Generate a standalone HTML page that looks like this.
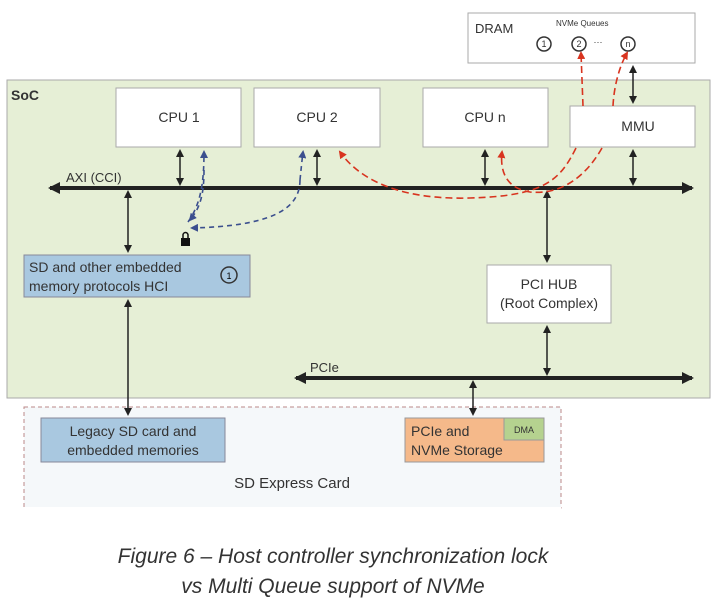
<!DOCTYPE html>
<html><head><style>
html,body{margin:0;padding:0;background:#fff;}
svg{display:block;font-family:"Liberation Sans",sans-serif;}
</style></head><body>
<svg width="720" height="612" viewBox="0 0 720 612" xmlns="http://www.w3.org/2000/svg">
<defs>
<marker id="ak" markerWidth="8" markerHeight="8" refX="6" refY="4" orient="auto-start-reverse" markerUnits="userSpaceOnUse"><path d="M0,0 L8,4 L0,8 z" fill="#222"/></marker>
<marker id="ab" markerWidth="12" markerHeight="12" refX="10" refY="6" orient="auto-start-reverse" markerUnits="userSpaceOnUse"><path d="M0,0 L12,6 L0,12 z" fill="#222"/></marker>
<marker id="ar" markerWidth="8" markerHeight="8" refX="6" refY="4" orient="auto" markerUnits="userSpaceOnUse"><path d="M0,0 L8,4 L0,8 z" fill="#d8341f"/></marker>
<marker id="abl" markerWidth="8" markerHeight="8" refX="6" refY="4" orient="auto" markerUnits="userSpaceOnUse"><path d="M0,0 L8,4 L0,8 z" fill="#3b4f8e"/></marker>
</defs>
<!-- DRAM -->
<rect x="468" y="13" width="227" height="50" fill="#fff" stroke="#aaa"/>
<text x="475" y="33" font-size="13" fill="#333">DRAM</text>
<text x="556" y="26" font-size="8" fill="#333">NVMe Queues</text>
<g fill="none" stroke="#333" stroke-width="1.5">
<circle cx="544" cy="44" r="7"/><circle cx="579" cy="44" r="7"/><circle cx="628" cy="44" r="7"/></g>
<g font-size="9" text-anchor="middle" fill="#333">
<text x="544" y="47">1</text><text x="579" y="47">2</text><text x="598" y="45">···</text><text x="628" y="47">n</text></g>
<!-- SoC -->
<rect x="7" y="80" width="703" height="318" fill="#e6efd6" stroke="#aaa"/>
<text x="11" y="100" font-size="14" font-weight="bold" fill="#333">SoC</text>
<g fill="#fff" stroke="#aaa">
<rect x="116" y="88" width="125" height="59"/>
<rect x="254" y="88" width="126" height="59"/>
<rect x="423" y="88" width="125" height="59"/>
<rect x="570" y="106" width="125" height="41"/>
<rect x="487" y="265" width="124" height="58"/>
</g>
<g font-size="14" fill="#333" text-anchor="middle">
<text x="179" y="122">CPU 1</text><text x="317" y="122">CPU 2</text><text x="485" y="122">CPU n</text><text x="638" y="131">MMU</text>
<text x="549" y="289">PCI HUB</text><text x="549" y="308">(Root Complex)</text>
</g>
<!-- HCI -->
<rect x="24" y="255" width="226" height="42" fill="#a9c8e0" stroke="#889"/>
<text x="29" y="272" font-size="14" fill="#333">SD and other embedded</text>
<text x="29" y="291" font-size="14" fill="#333">memory protocols HCI</text>
<circle cx="229" cy="275" r="8" fill="none" stroke="#333" stroke-width="1.5"/><text x="229" y="279" font-size="9" text-anchor="middle">1</text>
<!-- buses -->
<line x1="50" y1="188" x2="692" y2="188" stroke="#222" stroke-width="4" marker-start="url(#ab)" marker-end="url(#ab)"/>
<text x="66" y="182" font-size="13" fill="#333">AXI (CCI)</text>
<line x1="296" y1="378" x2="692" y2="378" stroke="#222" stroke-width="4" marker-start="url(#ab)" marker-end="url(#ab)"/>
<text x="310" y="372" font-size="13" fill="#333">PCIe</text>
<g stroke="#222" stroke-width="1.5" marker-start="url(#ak)" marker-end="url(#ak)">
<line x1="180" y1="151" x2="180" y2="184"/>
<line x1="317" y1="151" x2="317" y2="184"/>
<line x1="485" y1="151" x2="485" y2="184"/>
<line x1="633" y1="151" x2="633" y2="184"/>
<line x1="633" y1="67" x2="633" y2="102"/>
<line x1="128" y1="192" x2="128" y2="251"/>
<line x1="547" y1="192" x2="547" y2="261"/>
<line x1="547" y1="327" x2="547" y2="374"/>
</g>
<!-- blue dashed -->
<g fill="none" stroke="#3b4f8e" stroke-width="1.6" stroke-dasharray="5,4">
<path d="M188,222 C200,205 204,185 204,152" marker-end="url(#abl)"/>
<path d="M204,170 C204,195 200,208 190,220" marker-end="url(#abl)"/>
<path d="M300,180 C300,210 270,226 192,228" marker-end="url(#abl)"/>
<path d="M300,180 C301,170 302,160 303,152" marker-end="url(#abl)"/>
</g>
<!-- lock -->
<rect x="181" y="238" width="9" height="8" fill="#111"/>
<path d="M183,238 v-3 a2.5,2.5 0 0 1 5,0 v3" fill="none" stroke="#111" stroke-width="1.5"/>
<!-- red dashed -->
<g fill="none" stroke="#d8341f" stroke-width="1.6" stroke-dasharray="7,4">
<path d="M576,148 C560,180 545,196 470,198 C400,200 360,180 340,152" marker-end="url(#ar)"/>
<path d="M583,106 L581,53" marker-end="url(#ar)"/>
<path d="M613,106 C614,85 620,65 627,53" marker-end="url(#ar)"/>
<path d="M602,148 C585,178 560,195 530,192 C505,188 500,170 502,152" marker-end="url(#ar)"/>
</g>
<!-- SD Express card -->
<rect x="24" y="407" width="537" height="101" fill="#f5f8fa" stroke="#b88" stroke-dasharray="4,3"/>
<line x1="24" y1="508" x2="561" y2="508" stroke="#fff" stroke-width="2"/>
<g stroke="#222" stroke-width="1.5" marker-start="url(#ak)" marker-end="url(#ak)">
<line x1="128" y1="301" x2="128" y2="414"/>
<line x1="473" y1="382" x2="473" y2="414"/>
</g>
<rect x="41" y="418" width="184" height="44" fill="#a9c8e0" stroke="#889"/>
<text x="133" y="436" font-size="14" fill="#333" text-anchor="middle">Legacy SD card and</text>
<text x="133" y="455" font-size="14" fill="#333" text-anchor="middle">embedded memories</text>
<rect x="405" y="418" width="139" height="44" fill="#f5b98a" stroke="#999"/>
<rect x="504" y="418" width="40" height="22" fill="#b5d28f" stroke="#999"/>
<text x="524" y="433" font-size="9" fill="#333" text-anchor="middle">DMA</text>
<text x="411" y="436" font-size="14" fill="#333">PCIe and</text>
<text x="411" y="455" font-size="14" fill="#333">NVMe Storage</text>
<text x="292" y="488" font-size="15" fill="#333" text-anchor="middle">SD Express Card</text>
<!-- caption -->
<text x="333" y="563" font-size="21" font-style="italic" fill="#333" text-anchor="middle">Figure 6 – Host controller synchronization lock</text>
<text x="333" y="593" font-size="21" font-style="italic" fill="#333" text-anchor="middle">vs Multi Queue support of NVMe</text>
</svg>
</body></html>
